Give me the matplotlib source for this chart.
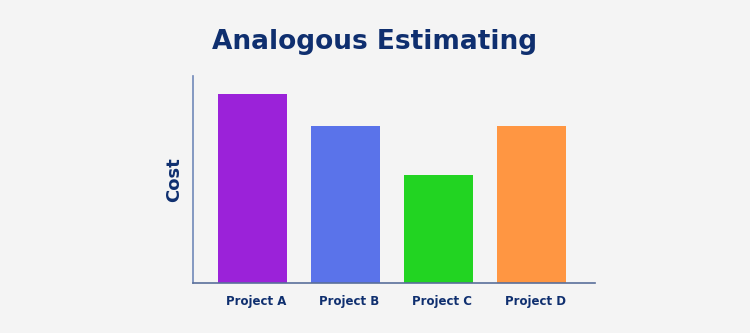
import matplotlib.pyplot as plt

# values (relative cost, axis tops out at 100)
projects = ["Project A", "Project B", "Project C", "Project D"]
costs = [91.5, 76, 52, 76]
bar_colors = ["#9b22d9", "#5a73ea", "#22d422", "#ff9642"]

navy = "#0f2f6f"
bg = "#f4f4f4"

fig = plt.figure(figsize=(7.5, 3.33), dpi=100, facecolor=bg)
ax = fig.add_axes([193 / 750, 50 / 333, 402 / 750, 207 / 333])
ax.set_facecolor(bg)

x = range(len(projects))
ax.bar(x, costs, width=0.74, color=bar_colors)

ax.set_xlim(-0.64, 3.68)
ax.set_ylim(0, 100)

for side in ["top", "right"]:
    ax.spines[side].set_visible(False)
ax.spines["left"].set_color("#7088b8")
ax.spines["bottom"].set_color("#5a6f9a")
ax.spines["left"].set_linewidth(1.2)
ax.spines["bottom"].set_linewidth(1.2)

ax.set_yticks([])
ax.set_xticks([i + 0.04 for i in x])
ax.set_xticklabels(projects, fontsize=8.5, fontweight="bold", color=navy)
ax.tick_params(axis="x", length=0, pad=9)

ax.set_ylabel("Cost", fontsize=13, fontweight="bold", color=navy, labelpad=7)

fig.text(0.5 * (213 + 537) / 750, 1 - 42 / 333, "Analogous Estimating",
         ha="center", va="center", fontsize=19, fontweight="bold", color=navy)

fig.savefig("out.png", dpi=100, facecolor=bg)
